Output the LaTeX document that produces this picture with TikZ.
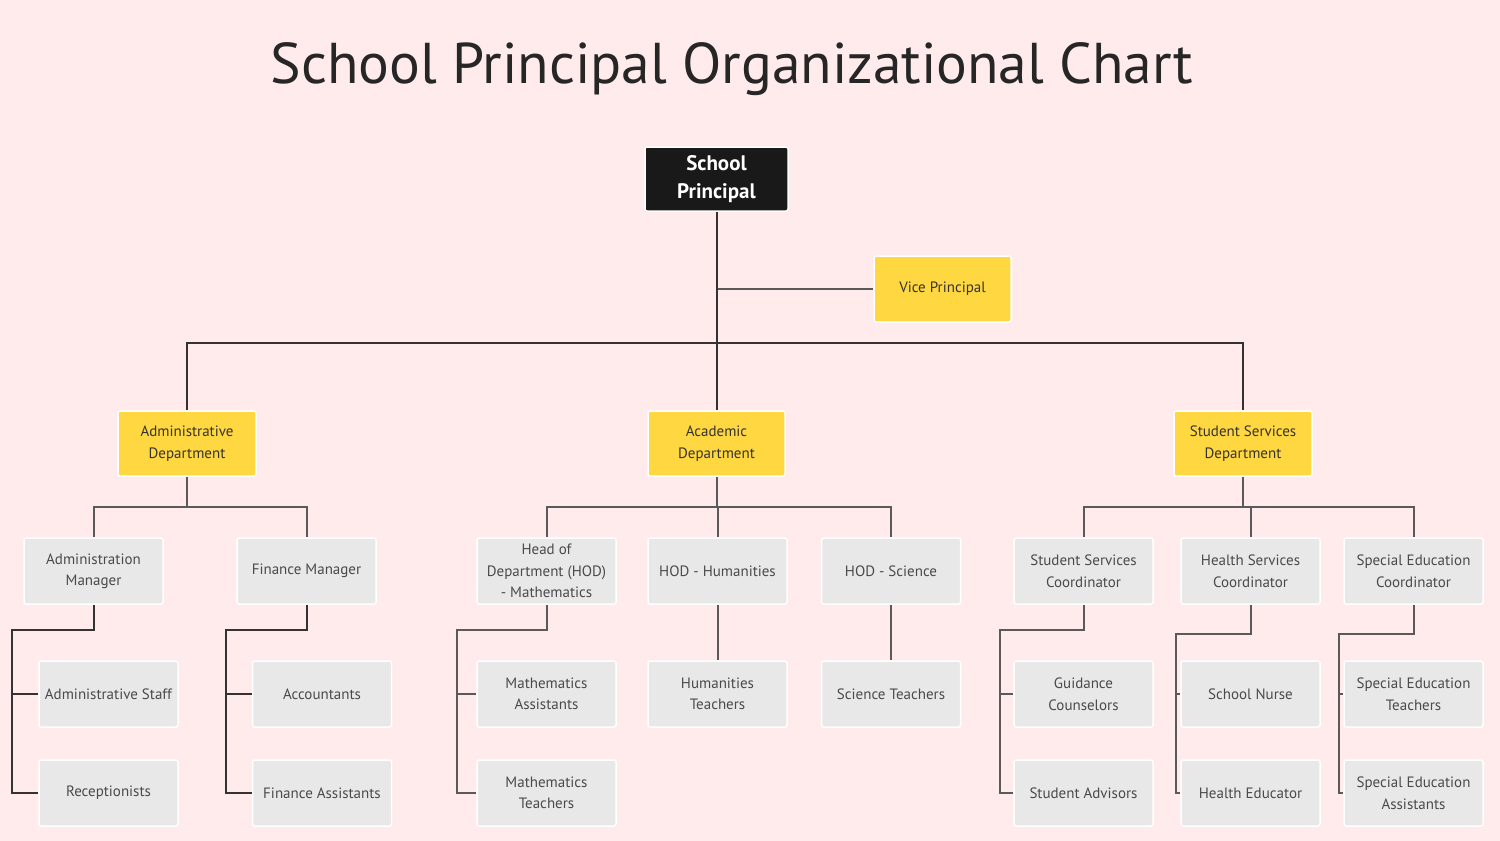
\documentclass[tikz,border=0pt]{standalone}
\usepackage{fontspec}
\setmainfont{PT Sans}
\definecolor{bg}{HTML}{FFEAEC}
\definecolor{boxgray}{HTML}{E8E8E8}
\definecolor{boxyellow}{HTML}{FFD740}
\definecolor{textgray}{HTML}{4A4A4A}
\definecolor{linedark}{HTML}{333333}
\definecolor{linegray}{HTML}{5A5A5A}
\begin{document}
\begin{tikzpicture}[x=1pt,y=-1pt,
  basebox/.style={draw=white, line width=1.5pt, rounded corners=2pt, minimum width=139pt, minimum height=66pt, align=center, inner sep=2pt, font=\fontsize{15}{21.5}\selectfont},
  gbox/.style={basebox, fill=boxgray, text=textgray},
  ybox/.style={basebox, fill=boxyellow, text=black!80},
  conn/.style={draw=linegray, line width=2pt},
  connd/.style={draw=linedark, line width=2pt}]
\fill[bg] (0,0) rectangle (1500,841);
\useasboundingbox (0,0) rectangle (1500,841);
\node[font=\fontsize{57.5}{62}\selectfont, text=black!85] (title) at (732,69) {School Principal Organizational Chart};
% top
\node[basebox, fill=black!90, text=white, minimum width=143pt, minimum height=64pt, font=\bfseries\fontsize{21}{28}\selectfont] (prin) at (716.5,179) {School\\Principal};
\node[ybox, minimum width=137pt] (vp) at (942.5,289) {Vice Principal};
\node[ybox, minimum width=138pt, minimum height=65pt] (admd) at (187,443.5) {Administrative\\Department};
\node[ybox, minimum width=137pt, minimum height=65pt] (acad) at (716.5,443.5) {Academic\\Department};
\node[ybox, minimum width=138pt, minimum height=65pt] (ssd) at (1243,443.5) {Student Services\\Department};
% row 2
\node[gbox] (am) at (93.5,571) {Administration\\Manager};
\node[gbox] (fm) at (306.5,571) {Finance Manager};
\node[gbox] (hm) at (546.5,571) {Head of\\Department (HOD)\\- Mathematics};
\node[gbox] (hh) at (717.5,571) {HOD - Humanities};
\node[gbox] (hs) at (891,571) {HOD - Science};
\node[gbox] (ssc) at (1083.5,571) {Student Services\\Coordinator};
\node[gbox] (hsc) at (1250.5,571) {Health Services\\Coordinator};
\node[gbox] (sec) at (1413.5,571) {Special Education\\Coordinator};
% row 3
\node[gbox] (as) at (108.5,694) {Administrative Staff};
\node[gbox] (ac) at (322,694) {Accountants};
\node[gbox] (ma) at (546.5,694) {Mathematics\\Assistants};
\node[gbox] (ht) at (717.5,694) {Humanities\\Teachers};
\node[gbox] (st) at (891,694) {Science Teachers};
\node[gbox] (gc) at (1083.5,694) {Guidance\\Counselors};
\node[gbox] (sn) at (1250.5,694) {School Nurse};
\node[gbox] (set) at (1413.5,694) {Special Education\\Teachers};
% row 4
\node[gbox] (rc) at (108.5,793) {Receptionists};
\node[gbox] (fa) at (322,793) {Finance Assistants};
\node[gbox] (mt) at (546.5,793) {Mathematics\\Teachers};
\node[gbox] (sa) at (1083.5,793) {Student Advisors};
\node[gbox] (he) at (1250.5,793) {Health Educator};
\node[gbox] (sea) at (1413.5,793) {Special Education\\Assistants};
% coordinates
\coordinate (bus0) at (716.5,343);
\coordinate (bus1) at (0,507);
\coordinate (amL) at (12,630);
\coordinate (fmL) at (226,630);
\coordinate (hmL) at (457,630);
\coordinate (sscL) at (1000,630);
\coordinate (hscL) at (1176,634);
\coordinate (secL) at (1339,634);
% principal connectors
\draw[conn] (prin.south |- vp.west) -- (vp.west);
\draw[connd] (prin.south) -- (acad.north);
\draw[connd] (admd.north) -- (admd.north |- bus0) -- (ssd.north |- bus0) -- (ssd.north);
% departments
\draw[conn] (admd.south) -- (admd.south |- bus1);
\draw[conn] (am.north) -- (am.north |- bus1) -- (fm.north |- bus1) -- (fm.north);
\draw[conn] (acad.south) -- (acad.south |- bus1);
\draw[conn] (hm.north) -- (hm.north |- bus1) -- (hs.north |- bus1) -- (hs.north);
\draw[conn] (hh.north) -- (hh.north |- bus1);
\draw[conn] (ssd.south) -- (ssd.south |- bus1);
\draw[conn] (ssc.north) -- (ssc.north |- bus1) -- (sec.north |- bus1) -- (sec.north);
\draw[conn] (hsc.north) -- (hsc.north |- bus1);
% managers
\draw[connd] (am.south) |- (amL) |- (rc.west);
\draw[connd] (amL |- as.west) -- (as.west);
\draw[connd] (fm.south) |- (fmL) |- (fa.west);
\draw[connd] (fmL |- ac.west) -- (ac.west);
\draw[conn] (hm.south) |- (hmL) |- (mt.west);
\draw[conn] (hmL |- ma.west) -- (ma.west);
\draw[conn] (hh.south) -- (ht.north);
\draw[conn] (hs.south) -- (st.north);
\draw[conn] (ssc.south) |- (sscL) |- (sa.west);
\draw[conn] (sscL |- gc.west) -- (gc.west);
\draw[conn] (hsc.south) |- (hscL) |- (he.west);
\draw[conn] (hscL |- sn.west) -- (sn.west);
\draw[conn] (sec.south) |- (secL) |- (sea.west);
\draw[conn] (secL |- set.west) -- (set.west);
\end{tikzpicture}
\end{document}
